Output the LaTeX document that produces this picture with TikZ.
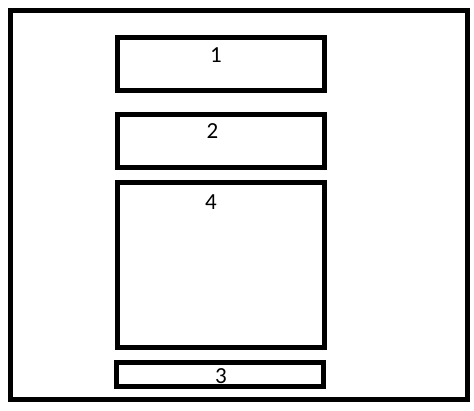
\documentclass[tikz,border=0pt]{standalone}
\usepackage{fontspec}
\setmainfont{Carlito}
\usepackage{tikz}

\begin{document}
\begin{tikzpicture}[x=1pt, y=-1pt, frame/.style={draw, rectangle, line width=5pt, inner sep=0pt}, num/.style={inner sep=0pt, font=\fontsize{23}{25}\selectfont}]
    \useasboundingbox (0, 0) rectangle (474, 410);
    \node[frame, minimum width=457pt, minimum height=389pt] (outer) at (238.5, 204.5) {};
    \node[frame, minimum width=207pt, minimum height=53pt] (B1) at (220.5, 63.5) {};
    \node[frame, minimum width=207pt, minimum height=53pt] (B2) at (220.5, 140.5) {};
    \node[frame, minimum width=207pt, minimum height=165pt] (B4) at (220.5, 264.5) {};
    \node[frame, minimum width=207pt, minimum height=24pt] (B3) at (219.5, 374) {};
    \node[num] (L1) at (216, 55) {1};
    \node[num] (L2) at (212.5, 131) {2};
    \node[num] (L4) at (211, 202) {4};
    \node[num] (L3) at (221, 376) {3};
    \end{tikzpicture}
\end{document}
